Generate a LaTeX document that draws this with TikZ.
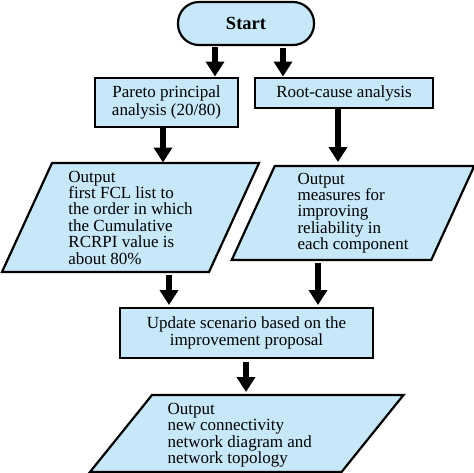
\documentclass[tikz,border=0pt]{standalone}
\usepackage{fontspec}
\setmainfont{Liberation Serif}
\usetikzlibrary{arrows.meta,backgrounds,calc}
\definecolor{boxfill}{RGB}{198,232,249}
\tikzset{
  box/.style={draw=black, line width=2.2pt, fill=boxfill, inner sep=0pt, outer sep=0pt,
    align=center, font=\fontsize{17}{17.5}\selectfont},
  parabox/.style={inner sep=0pt, outer sep=0pt, align=left,
    font=\fontsize{17}{16.4}\selectfont},
  parashape/.style={draw=black, line width=2.2pt, fill=boxfill, line join=miter},
  arr/.style={line width=6.5pt, -{Triangle[width=18pt,length=15pt]}}
}
\begin{document}
\begin{tikzpicture}[x=1pt,y=1pt]
\useasboundingbox (0,0) rectangle (474,-472);
\clip (0,0) rectangle (474,-472);

\node[box, rounded corners=21pt, minimum width=136pt, minimum height=43pt,
  font=\bfseries\fontsize{18.5}{20}\selectfont] (start) at (246,-23.5) {Start};
\node[box, minimum width=143pt, minimum height=49pt] (pareto) at (166.5,-102.5)
  {Pareto principal\\analysis (20/80)};
\node[box, minimum width=178pt, minimum height=30pt] (root) at (344,-93)
  {Root-cause analysis};
\node[parabox, minimum width=207pt, minimum height=109pt] (p1) at (130.5,-217.5)
  {Output\\first FCL list to\\the order in which\\the Cumulative\\RCRPI value is\\about 80\%};
\node[parabox, minimum width=199.5pt, minimum height=94pt] (p2) at (353,-213)
  {Output\\measures for\\improving\\reliability in\\each component};
\node[box, minimum width=253pt, minimum height=50pt] (update) at (246.5,-333)
  {Update scenario based on the\\improvement proposal};
\node[parabox, minimum width=251.5pt, minimum height=77pt] (p3) at (246.75,-433.5) {};
\node[parabox] (t3) at ($(p3)+(-7,-1.5)$)
  {Output\\new connectivity\\network diagram and\\network topology};

\begin{scope}[on background layer]
  \draw[parashape] ($(p1.north west)+(25,0)$) -- ($(p1.north east)+(25,0)$)
    -- ($(p1.south east)+(-25,0)$) -- ($(p1.south west)+(-25,0)$) -- cycle;
  \draw[parashape] ($(p2.north west)+(21.5,0)$) -- ($(p2.north east)+(21.5,0)$)
    -- ($(p2.south east)+(-21.5,0)$) -- ($(p2.south west)+(-21.5,0)$) -- cycle;
  \draw[parashape] ($(p3.north west)+(31,0)$) -- ($(p3.north east)+(31,0)$)
    -- ($(p3.south east)+(-31,0)$) -- ($(p3.south west)+(-31,0)$) -- cycle;
\end{scope}

\draw[arr] ($(start.south)+(-31,-2)$) -- ($(start.south |- pareto.north)+(-31,1.5)$);
\draw[arr] ($(start.south)+(37,-3)$) -- ($(start.south |- root.north)+(37,1.5)$);
\draw[arr] ($(pareto.south)+(-3.5,-1)$) -- ($(pareto.south |- p1.north)+(-3.5,0.5)$);
\draw[arr] ($(root.south)+(-6,-1)$) -- ($(root.south |- p2.north)+(-6,4)$);
\draw[arr] ($(p1.south)+(38.5,-3)$) -- ($(p1.south |- update.north)+(38.5,3)$);
\draw[arr] ($(p2.south)+(-35,-3)$) -- ($(p2.south |- update.north)+(-35,3)$);
\draw[arr] ($(update.south)+(-0.5,-4)$) -- ($(update.south |- p3.north)+(-0.5,3)$);
\end{tikzpicture}
\end{document}
